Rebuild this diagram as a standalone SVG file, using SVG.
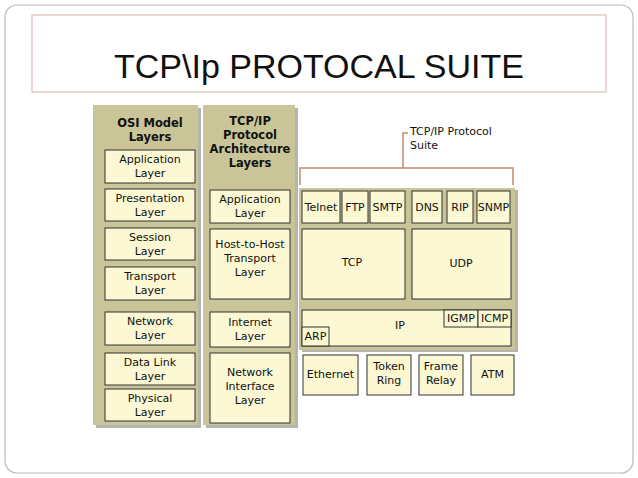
<svg xmlns="http://www.w3.org/2000/svg" width="638" height="478" viewBox="0 0 638 478">
<style>
.pn{fill:#c9c598;stroke:none}
.sh{fill:#b5b5b0}
.bx{fill:#fbf8d3;stroke:#333;stroke-width:1}
text{font-family:"DejaVu Sans",Verdana,sans-serif;font-size:11px;fill:#111;text-anchor:middle}
.b{font-weight:bold;font-size:11.5px}
.br{fill:none;stroke:#c58a6c;stroke-width:1.5}
</style>
<rect width="638" height="478" fill="#fff"/>
<rect x="5" y="5" width="628" height="468" rx="12" fill="none" stroke="#bbb" stroke-width="1.2"/>
<g id="title">
<rect x="32" y="15" width="574" height="77" fill="#fff" stroke="#d9b2a6" stroke-width="1"/>
<text x="319" y="78" style="font-family:'Liberation Sans',Arial,sans-serif;font-size:34px">TCP\Ip PROTOCAL SUITE</text>
</g>
<g id="osi">
<rect class="sh" x="96" y="108" width="105" height="320"/>
<rect class="pn" x="93" y="105" width="105" height="320"/>
<text class="b" x="150" y="127">OSI Model</text>
<text class="b" x="150" y="141">Layers</text>
<g id="osi-app"><rect class="bx" x="105" y="150" width="90" height="33"/><text x="150" y="163">Application</text><text x="150" y="177">Layer</text></g>
<g id="osi-pres"><rect class="bx" x="105" y="189" width="90" height="32"/><text x="150" y="202">Presentation</text><text x="150" y="216">Layer</text></g>
<g id="osi-sess"><rect class="bx" x="105" y="228" width="90" height="32"/><text x="150" y="241">Session</text><text x="150" y="255">Layer</text></g>
<g id="osi-trans"><rect class="bx" x="105" y="267" width="90" height="33"/><text x="150" y="280">Transport</text><text x="150" y="294">Layer</text></g>
<g id="osi-net"><rect class="bx" x="105" y="312" width="90" height="33"/><text x="150" y="325">Network</text><text x="150" y="339">Layer</text></g>
<g id="osi-dl"><rect class="bx" x="105" y="353" width="90" height="32"/><text x="150" y="366">Data Link</text><text x="150" y="380">Layer</text></g>
<g id="osi-phys"><rect class="bx" x="105" y="389" width="90" height="32"/><text x="150" y="402">Physical</text><text x="150" y="416">Layer</text></g>
</g>
<g id="tcpip">
<rect class="sh" x="206" y="108" width="92" height="320"/>
<rect class="pn" x="203" y="105" width="92" height="320"/>
<text class="b" x="250" y="125">TCP/IP</text>
<text class="b" x="250" y="139">Protocol</text>
<text class="b" x="250" y="153">Architecture</text>
<text class="b" x="250" y="167">Layers</text>
<g id="t-app"><rect class="bx" x="210" y="190" width="80" height="33"/><text x="250" y="203">Application</text><text x="250" y="217">Layer</text></g>
<g id="t-host"><rect class="bx" x="210" y="229" width="80" height="70"/><text x="250" y="248">Host-to-Host</text><text x="250" y="262">Transport</text><text x="250" y="276">Layer</text></g>
<g id="t-inet"><rect class="bx" x="210" y="312" width="80" height="35"/><text x="250" y="326">Internet</text><text x="250" y="340">Layer</text></g>
<g id="t-ni"><rect class="bx" x="210" y="353" width="80" height="70"/><text x="250" y="376">Network</text><text x="250" y="390">Interface</text><text x="250" y="404">Layer</text></g>
</g>
<g id="connectors">
<path class="br" d="M408,133 H403 V168 M300,185 V168 H513 V185"/>
</g>
<g id="suite-label">
<text x="410" y="135" style="text-anchor:start">TCP/IP Protocol</text>
<text x="410" y="149" style="text-anchor:start">Suite</text>
</g>
<g id="suite">
<rect class="sh" x="302" y="190" width="216" height="162"/>
<rect class="pn" x="299" y="188" width="216" height="162"/>
<g id="telnet"><rect class="bx" x="302" y="191" width="38" height="32"/><text x="321" y="211">Telnet</text></g>
<g id="ftp"><rect class="bx" x="342" y="191" width="26" height="32"/><text x="355" y="211">FTP</text></g>
<g id="smtp"><rect class="bx" x="370" y="191" width="35" height="32"/><text x="387.5" y="211">SMTP</text></g>
<g id="dns"><rect class="bx" x="412" y="191" width="30" height="32"/><text x="427" y="211">DNS</text></g>
<g id="rip"><rect class="bx" x="447" y="191" width="26" height="32"/><text x="460" y="211">RIP</text></g>
<g id="snmp"><rect class="bx" x="477" y="191" width="33" height="32"/><text x="493.5" y="211">SNMP</text></g>
<g id="tcp"><rect class="bx" x="302" y="229" width="103" height="70"/><text x="352" y="266">TCP</text></g>
<g id="udp"><rect class="bx" x="412" y="229" width="99" height="70"/><text x="461" y="267">UDP</text></g>
<g id="ip"><rect class="bx" x="302" y="310" width="209" height="36"/><text x="400" y="329">IP</text></g>
<g id="igmp"><rect class="bx" x="444" y="310" width="34" height="17"/><text x="461" y="322">IGMP</text></g>
<g id="icmp"><rect class="bx" x="478" y="310" width="33" height="17"/><text x="494.5" y="322">ICMP</text></g>
<g id="arp"><rect class="bx" x="302" y="327" width="27" height="19"/><text x="315.5" y="340">ARP</text></g>
</g>
<g id="ethernet"><rect class="bx" x="303" y="355" width="55" height="40"/><text x="330.5" y="378">Ethernet</text></g>
<g id="token"><rect class="bx" x="367" y="355" width="44" height="40"/><text x="389" y="370">Token</text><text x="389" y="384">Ring</text></g>
<g id="frame"><rect class="bx" x="419" y="355" width="44" height="40"/><text x="441" y="370">Frame</text><text x="441" y="384">Relay</text></g>
<g id="atm"><rect class="bx" x="471" y="355" width="43" height="40"/><text x="492.5" y="378">ATM</text></g>
</svg>
